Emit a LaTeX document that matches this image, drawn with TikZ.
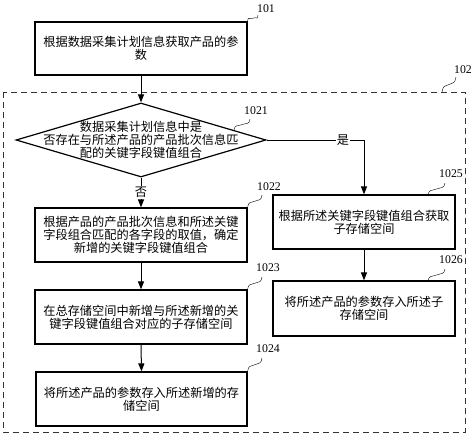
\documentclass[tikz,border=0pt]{standalone}
\usepackage{fontspec}
\setmainfont{Liberation Serif}
\newfontfamily\cjk{Noto Sans CJK SC}
\usetikzlibrary{arrows.meta,shapes.geometric,calc}
\tikzset{
  stepbox/.style={draw, line width=1.2pt, rectangle, inner sep=0pt, align=center,
    font=\cjk\fontsize{12.2}{12.8}\selectfont},
  arr/.style={line width=1pt, -{Triangle[length=8pt,width=6pt]}},
  num/.style={font=\fontsize{11.8}{12}\selectfont, inner sep=0pt},
  tag/.style={font=\cjk\fontsize{12.2}{12.8}\selectfont, fill=white, inner sep=1pt},
  leader/.style={line width=0.9pt, to path={.. controls +(1,-6) and +(-5,2) .. ($(\tikztostart)!0.5!(\tikztotarget)$) .. controls +(5,-2) and +(-1,6) .. (\tikztotarget)}}
}
\begin{document}
\begin{tikzpicture}[x=1pt,y=-1pt]
\useasboundingbox (0,0) rectangle (474,437);
% dashed group 102
\coordinate (g1) at (3,92);
\coordinate (g2) at (465,432);
\draw[line width=0.9pt, black!80, dash pattern=on 6pt off 4pt] (g1) rectangle (g2);
\coordinate (l102s) at (442,92);
\coordinate (l102e) at (456,77);
\node[num] (n102) at (463,70) {102};
\draw (l102s) to[leader] (l102e);

% 101
\node[stepbox, minimum width=212pt, minimum height=53pt] (b101) at (141,48.5)
  {根据数据采集计划信息获取产品的参\\数};
\node[num] (n101) at (266,9) {101};
\coordinate (l101e) at (258,15);
\draw (b101.north east) to[leader] (l101e);

% diamond 1021
\node[draw, diamond, line width=1.2pt, minimum width=250pt, minimum height=74pt, inner sep=0pt,
  label={[align=center, font=\cjk\fontsize{12.2}{12.8}\selectfont]center:数据采集计划信息中是\\否存在与所述产品的产品批次信息匹\\配的关键字段键值组合}]
  (d) at (141,140) {};
\node[num] (n1021) at (256,111) {1021};
\coordinate (l1021e) at (250,119);
\draw ($(d.north)!0.74!(d.east)$) to[leader] (l1021e);

% 1022
\node[stepbox, minimum width=212pt, minimum height=54pt] (b1022) at (141,235)
  {根据产品的产品批次信息和所述关键\\字段组合匹配的各字段的取值，确定\\新增的关键字段键值组合};
\node[num] (n1022) at (269,187) {1022};
\coordinate (l1022e) at (262,195);
\draw (b1022.north east) to[leader] (l1022e);

% 1023
\node[stepbox, minimum width=212pt, minimum height=54pt] (b1023) at (141,317)
  {在总存储空间中新增与所述新增的关\\键字段键值组合对应的子存储空间};
\node[num] (n1023) at (268,268) {1023};
\coordinate (l1023e) at (262,277);
\draw (b1023.north east) to[leader] (l1023e);

% 1024
\node[stepbox, minimum width=211pt, minimum height=54pt] (b1024) at (141.5,399)
  {将所述产品的参数存入所述新增的存\\储空间};
\node[num] (n1024) at (268,349) {1024};
\coordinate (l1024e) at (262,358);
\draw (b1024.north east) to[leader] (l1024e);

% 1025
\node[stepbox, minimum width=182pt, minimum height=54pt] (b1025) at (364,222)
  {根据所述关键字段键值组合获取\\子存储空间};
\node[num] (n1025) at (451,174) {1025};
\coordinate (l1025s) at (428,195);
\coordinate (l1025e) at (445,183);
\draw (l1025s) to[leader] (l1025e);

% 1026
\node[stepbox, minimum width=182pt, minimum height=55pt] (b1026) at (364,308.5)
  {将所述产品的参数存入所述子\\存储空间};
\node[num] (n1026) at (451,260) {1026};
\coordinate (l1026s) at (428,281);
\coordinate (l1026e) at (445,269);
\draw (l1026s) to[leader] (l1026e);

% connectors
\draw[arr] (b101.south) -- (d.north);
\draw[arr] (d.south) -- node[tag] (tno) {否} (b1022.north);
\draw[arr] (d.east) -| (b1025.north);
\node[tag] (tyes) at (343,140) {是};
\draw[arr] (b1022.south) -- (b1023.north);
\draw[arr] (b1023.south) -- (b1024.north);
\draw[arr] (b1025.south) -- (b1026.north);
\end{tikzpicture}
\end{document}
